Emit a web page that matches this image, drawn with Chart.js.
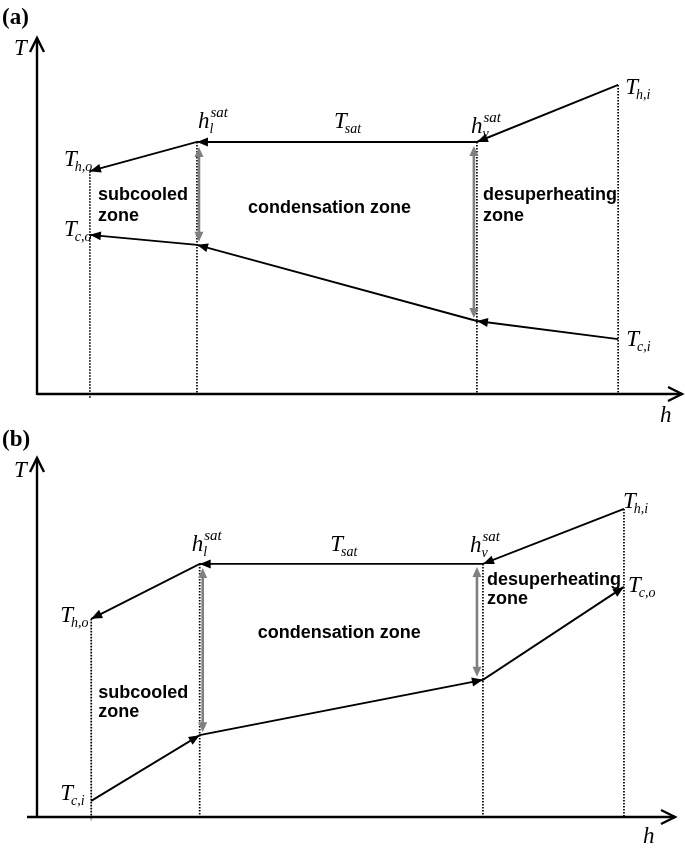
<!DOCTYPE html>
<html>
<head>
<meta charset="utf-8">
<script src="https://cdn.jsdelivr.net/npm/chart.js@4.4.1/dist/chart.umd.min.js"></script>
<style>
  html,body{margin:0;padding:0;background:#fff;}
  #wrap{position:relative;width:685px;height:853px;overflow:hidden;}
  canvas{position:absolute;left:0;}
</style>
</head>
<body>
<div id="wrap">
  <canvas id="ca" width="685" height="428" style="top:0px"></canvas>
  <canvas id="cb" width="685" height="425" style="top:428px"></canvas>
</div>
<script>
// ---------- DATA (schematic units: h on x, T on y, both 0..100) ----------
// zone boundaries: [hot outlet, h_l^sat, h_v^sat, hot inlet]
const H_A    = [8.2, 24.8, 68.2, 90.1];
const HOT_A  = [62.6, 70.8, 70.8, 86.8];
const COLD_A = [44.7, 41.9, 20.5, 15.4];   // (a) counter-flow: cold enters at right

const H_B    = [8.5, 25.5, 69.9, 92.0];
const HOT_B  = [55.2, 70.5, 70.5, 85.8];
const COLD_B = [4.5, 22.8, 38.2, 64.1];    // (b) parallel flow: cold enters at left

// point labels: [main, subscript, superscript]
const HOT_LABELS    = [['T','h,o',''], ['h','l','sat'], ['h','v','sat'], ['T','h,i','']];
const COLD_LABELS_A = [['T','c,o',''], null, null, ['T','c,i','']];
const COLD_LABELS_B = [['T','c,i',''], null, null, ['T','c,o','']];
const SAT_LABEL     = ['T','sat',''];
const ZONE_LABELS   = [['subcooled','zone'], ['condensation zone'], ['desuperheating','zone']];
const PANEL_LABELS  = ['(a)', '(b)'];
const AXIS_LABELS   = ['T', 'h'];

// ---------- helpers ----------
const SERIF = '"Liberation Serif", "Times New Roman", serif';
const SANS  = '"Liberation Sans", Arial, sans-serif';

function fillHead(ctx, x, y, ang, len, hw) {
  ctx.save();
  ctx.translate(x, y);
  ctx.rotate(ang);
  ctx.beginPath();
  ctx.moveTo(0, 0);
  ctx.lineTo(-len, -hw);
  ctx.lineTo(-len, hw);
  ctx.closePath();
  ctx.fill();
  ctx.restore();
}
function openHead(ctx, x, y, ang) {
  ctx.save();
  ctx.translate(x, y);
  ctx.rotate(ang);
  ctx.beginPath();
  ctx.moveTo(-14, -7);
  ctx.lineTo(0, 0);
  ctx.lineTo(-14, 7);
  ctx.stroke();
  ctx.restore();
}
function drawLabel(ctx, x, y, lab) {
  const [main, sub, sup] = lab;
  ctx.fillStyle = '#000';
  ctx.textBaseline = 'alphabetic';
  ctx.textAlign = 'left';
  ctx.font = 'italic 23px ' + SERIF;
  ctx.fillText(main, x, y);
  const w = ctx.measureText(main).width;
  if (sub) {
    ctx.font = 'italic 14px ' + SERIF;
    ctx.fillText(sub, x + w - (main === 'T' ? 2 : 0), y + 5);
  }
  if (sup) {
    ctx.font = 'italic 15px ' + SERIF;
    ctx.fillText(sup, x + w + 1, y - 11);
  }
}

// ---------- chart builder ----------
function build(id, panel, H, HOT, COLD, coldLabels, coldForward, L) {
  const hotPts = H.map((h, i) => ({x: h, y: HOT[i]})).reverse();      // hot flows right -> left
  let coldPts = H.map((h, i) => ({x: h, y: COLD[i]}));
  if (!coldForward) coldPts = coldPts.reverse();

  const datasets = [];
  // dotted zone boundaries
  H.forEach((h, i) => {
    datasets.push({
      data: [{x: h, y: HOT[i]}, {x: h, y: i === 0 ? L.dotExt : 0}],
      showLine: true, borderColor: '#000', borderWidth: 1.7, borderDash: [1.6, 1.4],
      pointRadius: 0, clip: false, order: 3
    });
  });
  datasets.push({data: hotPts, showLine: true, borderColor: '#000', borderWidth: 1.9,
                 pointRadius: 0, clip: false, flowArrows: true, order: 1});
  datasets.push({data: coldPts, showLine: true, borderColor: '#000', borderWidth: 1.9,
                 pointRadius: 0, clip: false, flowArrows: true, order: 1});

  const deco = {
    id: 'deco' + panel,
    beforeDatasetsDraw(chart) {
      const {ctx, chartArea: a} = chart;
      ctx.save();
      ctx.strokeStyle = '#000';
      ctx.lineWidth = 2.4;
      ctx.lineCap = 'butt';
      // y axis
      ctx.beginPath();
      ctx.moveTo(a.left, a.bottom + 1);
      ctx.lineTo(a.left, a.top);
      ctx.stroke();
      openHead(ctx, a.left, a.top, -Math.PI / 2);
      // x axis
      ctx.beginPath();
      ctx.moveTo(a.left - L.xAxisExt, a.bottom);
      ctx.lineTo(a.right, a.bottom);
      ctx.stroke();
      openHead(ctx, a.right, a.bottom, 0);
      ctx.restore();
    },
    afterDatasetsDraw(chart) {
      const {ctx, chartArea: a} = chart;
      const xs = chart.scales.x, ys = chart.scales.y;
      ctx.save();
      // flow arrowheads at the end of each segment
      ctx.fillStyle = '#000';
      chart.data.datasets.forEach((ds, di) => {
        if (!ds.flowArrows) return;
        const pts = chart.getDatasetMeta(di).data;
        for (let k = 1; k < pts.length; k++) {
          const p0 = pts[k - 1], p1 = pts[k];
          fillHead(ctx, p1.x, p1.y, Math.atan2(p1.y - p0.y, p1.x - p0.x), 11, 4.5);
        }
      });
      // grey double arrows (temperature difference at saturation boundaries)
      ctx.strokeStyle = '#808080';
      ctx.fillStyle = '#808080';
      ctx.lineWidth = 2.6;
      L.grey.forEach(g => {
        const x = xs.getPixelForValue(H[g.k]) + g.dx;
        const y1 = ys.getPixelForValue(HOT[g.k]) + g.top;
        const y2 = ys.getPixelForValue(COLD[g.k]) + g.bot;
        ctx.beginPath();
        ctx.moveTo(x, y1 + 8);
        ctx.lineTo(x, y2 - 8);
        ctx.stroke();
        fillHead(ctx, x, y1, -Math.PI / 2, 10, 4.5);
        fillHead(ctx, x, y2, Math.PI / 2, 10, 4.5);
      });
      // point labels
      HOT_LABELS.forEach((lab, k) => {
        const o = L.hot[k];
        drawLabel(ctx, xs.getPixelForValue(H[k]) + o[0], ys.getPixelForValue(HOT[k]) + o[1], lab);
      });
      coldLabels.forEach((lab, k) => {
        if (!lab) return;
        const o = L.cold[k];
        drawLabel(ctx, xs.getPixelForValue(H[k]) + o[0], ys.getPixelForValue(COLD[k]) + o[1], lab);
      });
      const midX = (xs.getPixelForValue(H[1]) + xs.getPixelForValue(H[2])) / 2;
      drawLabel(ctx, midX + L.sat[0], ys.getPixelForValue(HOT[1]) + L.sat[1], SAT_LABEL);
      // zone labels
      ctx.font = 'bold 18px ' + SANS;
      ctx.fillStyle = '#000';
      ZONE_LABELS.forEach((lines, k) => {
        const o = L.zone[k];
        const x = xs.getPixelForValue(H[k]) + o[0];
        const y = ys.getPixelForValue(HOT[k]) + o[1];
        lines.forEach((t, j) => ctx.fillText(t, x, y + j * L.zoneGap));
      });
      // axis labels
      ctx.font = 'italic 23px ' + SERIF;
      ctx.fillText(AXIS_LABELS[0], a.left + L.tLab[0], a.top + L.tLab[1]);
      ctx.fillText(AXIS_LABELS[1], a.right + L.hLab[0], a.bottom + L.hLab[1]);
      // panel label
      ctx.font = 'bold 23px ' + SERIF;
      ctx.fillText(PANEL_LABELS[panel], L.pLab[0], L.pLab[1]);
      ctx.restore();
    }
  };

  return new Chart(document.getElementById(id), {
    type: 'scatter',
    data: {datasets},
    options: {
      responsive: false,
      animation: false,
      events: [],
      layout: {padding: L.pad},
      plugins: {legend: {display: false}, tooltip: {enabled: false}},
      scales: {
        x: {type: 'linear', min: 0, max: 100, display: false},
        y: {type: 'linear', min: 0, max: 100, display: false}
      }
    },
    plugins: [deco]
  });
}

build('ca', 0, H_A, HOT_A, COLD_A, COLD_LABELS_A, false, {
  pad: {left: 37, right: 3, top: 38, bottom: 34},
  dotExt: -1.2, xAxisExt: 0,
  hot: [[-26, -5], [1, -14], [-6, -9], [7, 9]],
  cold: [[-26, 1], null, null, [8, 7]],
  sat: [-3, -14],
  zone: [[8, 29], [51, 71], [6, 58]], zoneGap: 21,
  grey: [{k: 1, dx: 2, top: 5, bot: -3}, {k: 2, dx: -3, top: 4, bot: -3}],
  tLab: [-23, 17], hLab: [-22, 28], pLab: [2, 24]
});

build('cb', 1, H_B, HOT_B, COLD_B, COLD_LABELS_B, true, {
  pad: {left: 37, right: 10, top: 30, bottom: 36},
  dotExt: -0.9, xAxisExt: 10,
  hot: [[-31, 3], [-8, -13], [-13, -12], [-1, -1]],
  cold: [[-31, -1], null, null, [4, 5]],
  sat: [-11, -13],
  zone: [[7, 79], [58, 74], [4, 21]], zoneGap: 19,
  grey: [{k: 1, dx: 3, top: 4, bot: -3}, {k: 2, dx: -6, top: 3, bot: -3}],
  tLab: [-23, 19], hLab: [-32, 26], pLab: [2, 18]
});
</script>
</body>
</html>
